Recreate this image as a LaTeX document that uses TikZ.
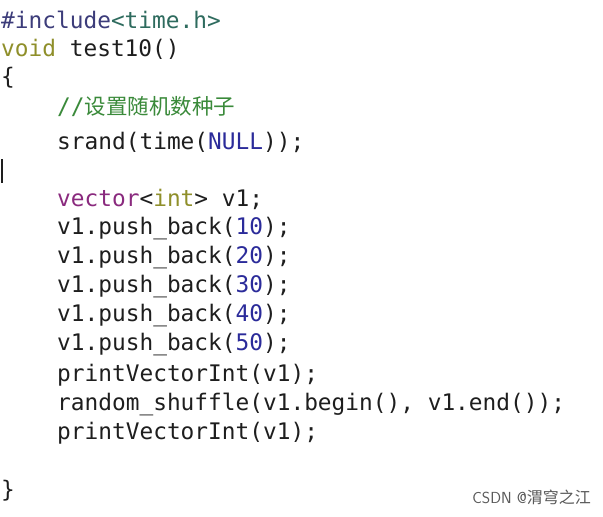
\documentclass[tikz,border=0pt]{standalone}
\usepackage{fontspec}
\setmonofont{DejaVu Sans Mono}
\newfontfamily\cjk{Noto Sans CJK SC}
\definecolor{kw}{HTML}{8F8F2A}
\definecolor{pp}{HTML}{3C3C7A}
\definecolor{inc}{HTML}{2E6B5E}
\definecolor{cm}{HTML}{3A8A3A}
\definecolor{nu}{HTML}{2B2B9A}
\definecolor{ty}{HTML}{8A2A7E}
\definecolor{tx}{HTML}{1E1E1E}
\tikzset{code/.style={anchor=west,inner sep=0pt,text=tx,font=\ttfamily\fontsize{22.8}{25}\selectfont}}
\begin{document}
\begin{tikzpicture}[x=1pt,y=1pt]
\useasboundingbox (0,0) rectangle (603,517);
\fill[white] (0,0) rectangle (603,517);
\node[code] (l1) at (1,497) {\textcolor{pp}{\#include}\textcolor{inc}{<time.h>}};
\node[code] (l2) at (1,468) {\textcolor{kw}{void} test10()};
\node[code] (l3) at (1,439) {\{};
\node[code] (l4) at (57,410) {\textcolor{cm}{//{\cjk\fontsize{21.5}{24}\selectfont 设置随机数种子}}};
\node[code] (l5) at (57,375) {srand(time(\textcolor{nu}{NULL}));};
\draw[line width=1.5pt,tx] (2,334) -- (2,358);
\node[code] (l6) at (57,318) {\textcolor{ty}{vector}<\textcolor{kw}{int}> v1;};
\node[code] (l7) at (57,288) {v1.push\_back(\textcolor{nu}{10});};
\node[code] (l8) at (57,259) {v1.push\_back(\textcolor{nu}{20});};
\node[code] (l9) at (57,230) {v1.push\_back(\textcolor{nu}{30});};
\node[code] (l10) at (57,201) {v1.push\_back(\textcolor{nu}{40});};
\node[code] (l11) at (57,172) {v1.push\_back(\textcolor{nu}{50});};
\node[code] (l12) at (57,142) {printVectorInt(v1);};
\node[code] (l13) at (57,113) {random\_shuffle(v1.begin(), v1.end());};
\node[code] (l14) at (57,84) {printVectorInt(v1);};
\node[code] (l15) at (1,26) {\}};
\node[anchor=east,inner sep=0pt,text=gray!70!black,font=\fontsize{16}{18}\selectfont] (wm) at (591,20) {\sffamily CSDN @{\cjk 渭穹之江}};
\end{tikzpicture}
\end{document}
